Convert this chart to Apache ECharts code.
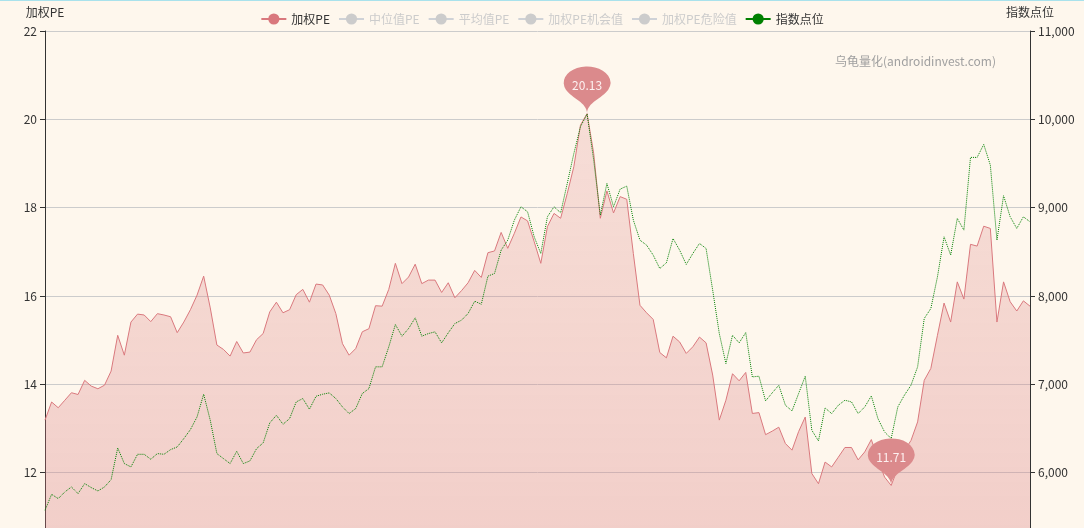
<!DOCTYPE html>
<html>
<head>
<meta charset="utf-8">
<script src="https://cdn.jsdelivr.net/npm/echarts@6/dist/echarts.min.js"></script>
<style>
  html, body { margin: 0; padding: 0; background: #fef7ed; }
  .wrap { width: 1084px; height: 528px; overflow: hidden; border-top: 1px solid #a9e2ec; box-sizing: border-box; }
  #chart { width: 1084px; height: 600px; margin-top: -1px; }
</style>
</head>
<body>
<div class="wrap"><div id="chart"></div></div>
<script>
// weighted PE, one value per period
const pe = [
  13.19, 13.60, 13.47, 13.64, 13.81, 13.77, 14.09, 13.96, 13.90, 13.98,
  14.30, 15.11, 14.66, 15.41, 15.59, 15.57, 15.42, 15.60, 15.57, 15.53,
  15.17, 15.41, 15.69, 16.02, 16.45, 15.73, 14.89, 14.79, 14.64, 14.97,
  14.71, 14.73, 15.01, 15.15, 15.64, 15.86, 15.62, 15.69, 16.03, 16.15,
  15.86, 16.27, 16.25, 16.02, 15.60, 14.92, 14.66, 14.81, 15.19, 15.26,
  15.78, 15.77, 16.15, 16.74, 16.28, 16.43, 16.72, 16.28, 16.36, 16.36,
  16.08, 16.30, 15.96, 16.12, 16.30, 16.58, 16.42, 16.98, 17.02, 17.44,
  17.08, 17.42, 17.79, 17.70, 17.23, 16.74, 17.57, 17.87, 17.76, 18.32,
  18.93, 19.87, 20.13, 19.23, 17.76, 18.38, 17.88, 18.25, 18.19, 16.96,
  15.79, 15.62, 15.47, 14.72, 14.60, 15.09, 14.96, 14.70, 14.85, 15.07,
  14.94, 14.21, 13.19, 13.64, 14.24, 14.08, 14.27, 13.34, 13.36, 12.86,
  12.94, 13.03, 12.66, 12.51, 12.93, 13.26, 11.98, 11.75, 12.24, 12.13,
  12.35, 12.57, 12.57, 12.29, 12.47, 12.75, 12.30, 11.90, 11.71, 12.10,
  12.50, 12.73, 13.15, 14.09, 14.36, 15.11, 15.84, 15.41, 16.32, 15.93,
  17.17, 17.13, 17.58, 17.53, 15.41, 16.32, 15.87, 15.66, 15.89, 15.77
];

// index level
const indexPts = [
  5574, 5755, 5706, 5782, 5838, 5763, 5876, 5831, 5793, 5838,
  5921, 6280, 6103, 6065, 6208, 6208, 6152, 6216, 6208, 6261,
  6291, 6386, 6488, 6631, 6888, 6593, 6216, 6159, 6103, 6242,
  6103, 6133, 6272, 6337, 6563, 6650, 6548, 6612, 6801, 6839,
  6718, 6865, 6888, 6903, 6839, 6744, 6669, 6726, 6896, 6952,
  7198, 7198, 7424, 7677, 7545, 7632, 7753, 7545, 7575, 7594,
  7469, 7583, 7688, 7726, 7802, 7941, 7907, 8225, 8255, 8519,
  8632, 8859, 9010, 8953, 8670, 8481, 8897, 9010, 8942, 9274,
  9614, 9916, 10060, 9539, 8916, 9274, 9010, 9210, 9244, 8859,
  8632, 8576, 8463, 8311, 8376, 8651, 8519, 8357, 8481, 8595,
  8538, 8066, 7575, 7235, 7556, 7469, 7586, 7084, 7092, 6812,
  6903, 6990, 6763, 6699, 6896, 7092, 6480, 6359, 6733, 6669,
  6763, 6820, 6801, 6669, 6744, 6869, 6612, 6461, 6386, 6744,
  6877, 6990, 7198, 7745, 7858, 8217, 8670, 8463, 8878, 8746,
  9569, 9569, 9716, 9482, 8632, 9135, 8897, 8765, 8897, 8840
];

// x categories are below the visible area, just period labels
const periods = pe.map((_, i) => 'P' + (i + 1));

const legendNames = ['加权PE', '中位值PE', '平均值PE', '加权PE机会值', '加权PE危险值', '指数点位'];
const hiddenNames = ['中位值PE', '平均值PE', '加权PE机会值', '加权PE危险值'];

const peColor = '#d9787d';
const font = '"Noto Sans CJK SC", "Noto Sans", sans-serif';

const chart = echarts.init(document.getElementById('chart'));

const selected = {};
hiddenNames.forEach(n => { selected[n] = false; });

const option = {
  backgroundColor: 'transparent',
  textStyle: { fontFamily: font },
  animation: false,
  legend: {
    data: legendNames,
    top: 8,
    selected: selected,
    textStyle: { fontSize: 12, color: '#333' },
    lineStyle: { type: 'solid' },
    inactiveColor: '#ccc'
  },
  graphic: [{
    type: 'text',
    right: 88,
    top: 55,
    style: { text: '乌龟量化(androidinvest.com)', fill: '#a0a0a0', font: '12px ' + font }
  }],
  grid: { left: 45, right: 54, top: 31, bottom: 39 },
  xAxis: {
    type: 'category',
    data: periods,
    boundaryGap: false,
    axisLine: { lineStyle: { color: '#333' } }
  },
  yAxis: [{
    type: 'value',
    name: '加权PE',
    nameGap: 13,
    nameTextStyle: { color: '#333', fontSize: 12 },
    min: 10, max: 22, interval: 2,
    axisLine: { show: true, lineStyle: { color: '#333' } },
    axisTick: { show: true },
    axisLabel: { color: '#333', fontSize: 12 },
    splitLine: { lineStyle: { color: '#ccc' } }
  }, {
    type: 'value',
    name: '指数点位',
    nameGap: 13,
    nameTextStyle: { color: '#333', fontSize: 12 },
    min: 5000, max: 11000, interval: 1000,
    axisLine: { show: true, lineStyle: { color: '#333' } },
    axisTick: { show: true },
    axisLabel: { color: '#333', fontSize: 12, formatter: v => v.toLocaleString('en-US') },
    splitLine: { show: false }
  }],
  series: [{
    name: '加权PE',
    type: 'line',
    data: pe,
    symbol: 'circle',
    showSymbol: false,
    lineStyle: { width: 1, color: peColor },
    itemStyle: { color: peColor },
    areaStyle: {
      opacity: 1,
      color: new echarts.graphic.LinearGradient(0, 0, 0, 1, [
        { offset: 0, color: 'rgba(217,120,125,0.2)' },
        { offset: 1, color: 'rgba(217,120,125,0.32)' }
      ])
    },
    markPoint: {
      symbol: 'pin',
      symbolSize: [78, 54],
      itemStyle: { color: '#db8a8c' },
      label: { color: '#fdf0f0', fontSize: 12 },
      data: [{ type: 'max' }, { type: 'min' }]
    }
  }].concat(hiddenNames.map(n => ({
    name: n,
    type: 'line',
    data: [],
    symbol: 'circle',
    itemStyle: { color: '#999' }
  }))).concat([{
    name: '指数点位',
    type: 'line',
    yAxisIndex: 1,
    data: indexPts,
    symbol: 'circle',
    showSymbol: false,
    lineStyle: { width: 1, type: 'dotted', color: 'green' },
    itemStyle: { color: 'green' }
  }])
};

chart.setOption(option);
</script>
</body>
</html>
